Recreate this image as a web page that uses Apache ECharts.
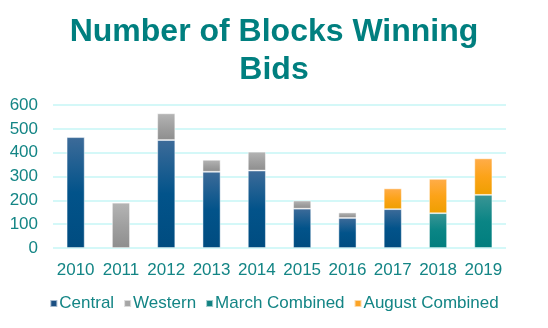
<!DOCTYPE html>
<html><head><meta charset="utf-8">
<script src="https://cdn.jsdelivr.net/npm/echarts@6/dist/echarts.min.js"></script>
<style>html,body{margin:0;padding:0;background:#fff}#c{width:548px;height:328px}</style>
</head><body><div id="c"></div>
<script>
const categories = ['2010','2011','2012','2013','2014','2015','2016','2017','2018','2019'];
const central = [465, null, 453, 320, 325, 165, 126, 163, null, null];
const western = [null, 190, 112, 50, 79, 34, 23, null, null, null];
const marchCombined = [null, null, null, null, null, null, null, null, 146, 223];
const augustCombined = [null, null, null, null, null, null, null, 87, 144, 153];
const yTicks = [0, 100, 200, 300, 400, 500, 600];

const txt = '#138585';
function grad(top, mid, bottom) {
  return {type:'linear', x:0, y:0, x2:0, y2:1, colorStops:[
    {offset:0, color:top},{offset:0.5, color:mid},{offset:1, color:bottom}]};
}
function ser(name, data, g) {
  return {name, type:'bar', stack:'t', data, barWidth:18,
    itemStyle:{color:g, borderColor:'rgba(255,255,255,0.6)', borderWidth:0.8},
    emphasis:{disabled:true}};
}
const chart = echarts.init(document.getElementById('c'), null, {renderer:'canvas'});
chart.setOption({
  animation:false,
  title:{text:'Number of Blocks Winning\nBids', left:'center', top:8,
    textStyle:{color:'#007f7f', fontFamily:'Liberation Sans, Arial', fontWeight:'bold', fontSize:32, lineHeight:38}},
  legend:{bottom:11, left:'center', itemWidth:7, itemHeight:7, itemGap:9, icon:'rect',
    textStyle:{color:txt, fontFamily:'Liberation Sans, Arial', fontSize:17, padding:[0,0,0,-3]},
    data:[{name:'Central', itemStyle:{color:'#1b4f82'}},
          {name:'Western', itemStyle:{color:'#a6a6a6'}},
          {name:'March Combined', itemStyle:{color:'#128282'}},
          {name:'August Combined', itemStyle:{color:'#fca426'}}]},
  grid:{left:53, right:42, top:105, bottom:80},
  xAxis:{type:'category', data:categories,
    axisLine:{show:false}, axisTick:{show:false},
    axisLabel:{color:txt, fontFamily:'Liberation Sans, Arial', fontSize:17, margin:14, interval:0}},
  yAxis:{type:'value', min:yTicks[0], max:yTicks[yTicks.length-1], interval:100,
    axisLine:{show:false}, axisTick:{show:false},
    splitLine:{lineStyle:{color:'#c6f6f6', width:1.5}},
    axisLabel:{color:txt, fontFamily:'Liberation Sans, Arial', fontSize:17, margin:15}},
  series:[
    ser('Central', central, grad('#3d6b99','#02538a','#004c80')),
    ser('Western', western, grad('#b5b5b5','#a0a0a0','#8e8e8e')),
    ser('March Combined', marchCombined, grad('#3a9595','#0a8585','#007e7e')),
    ser('August Combined', augustCombined, grad('#ffad4a','#fca318','#ee9f00'))
  ]
});
</script></body></html>
